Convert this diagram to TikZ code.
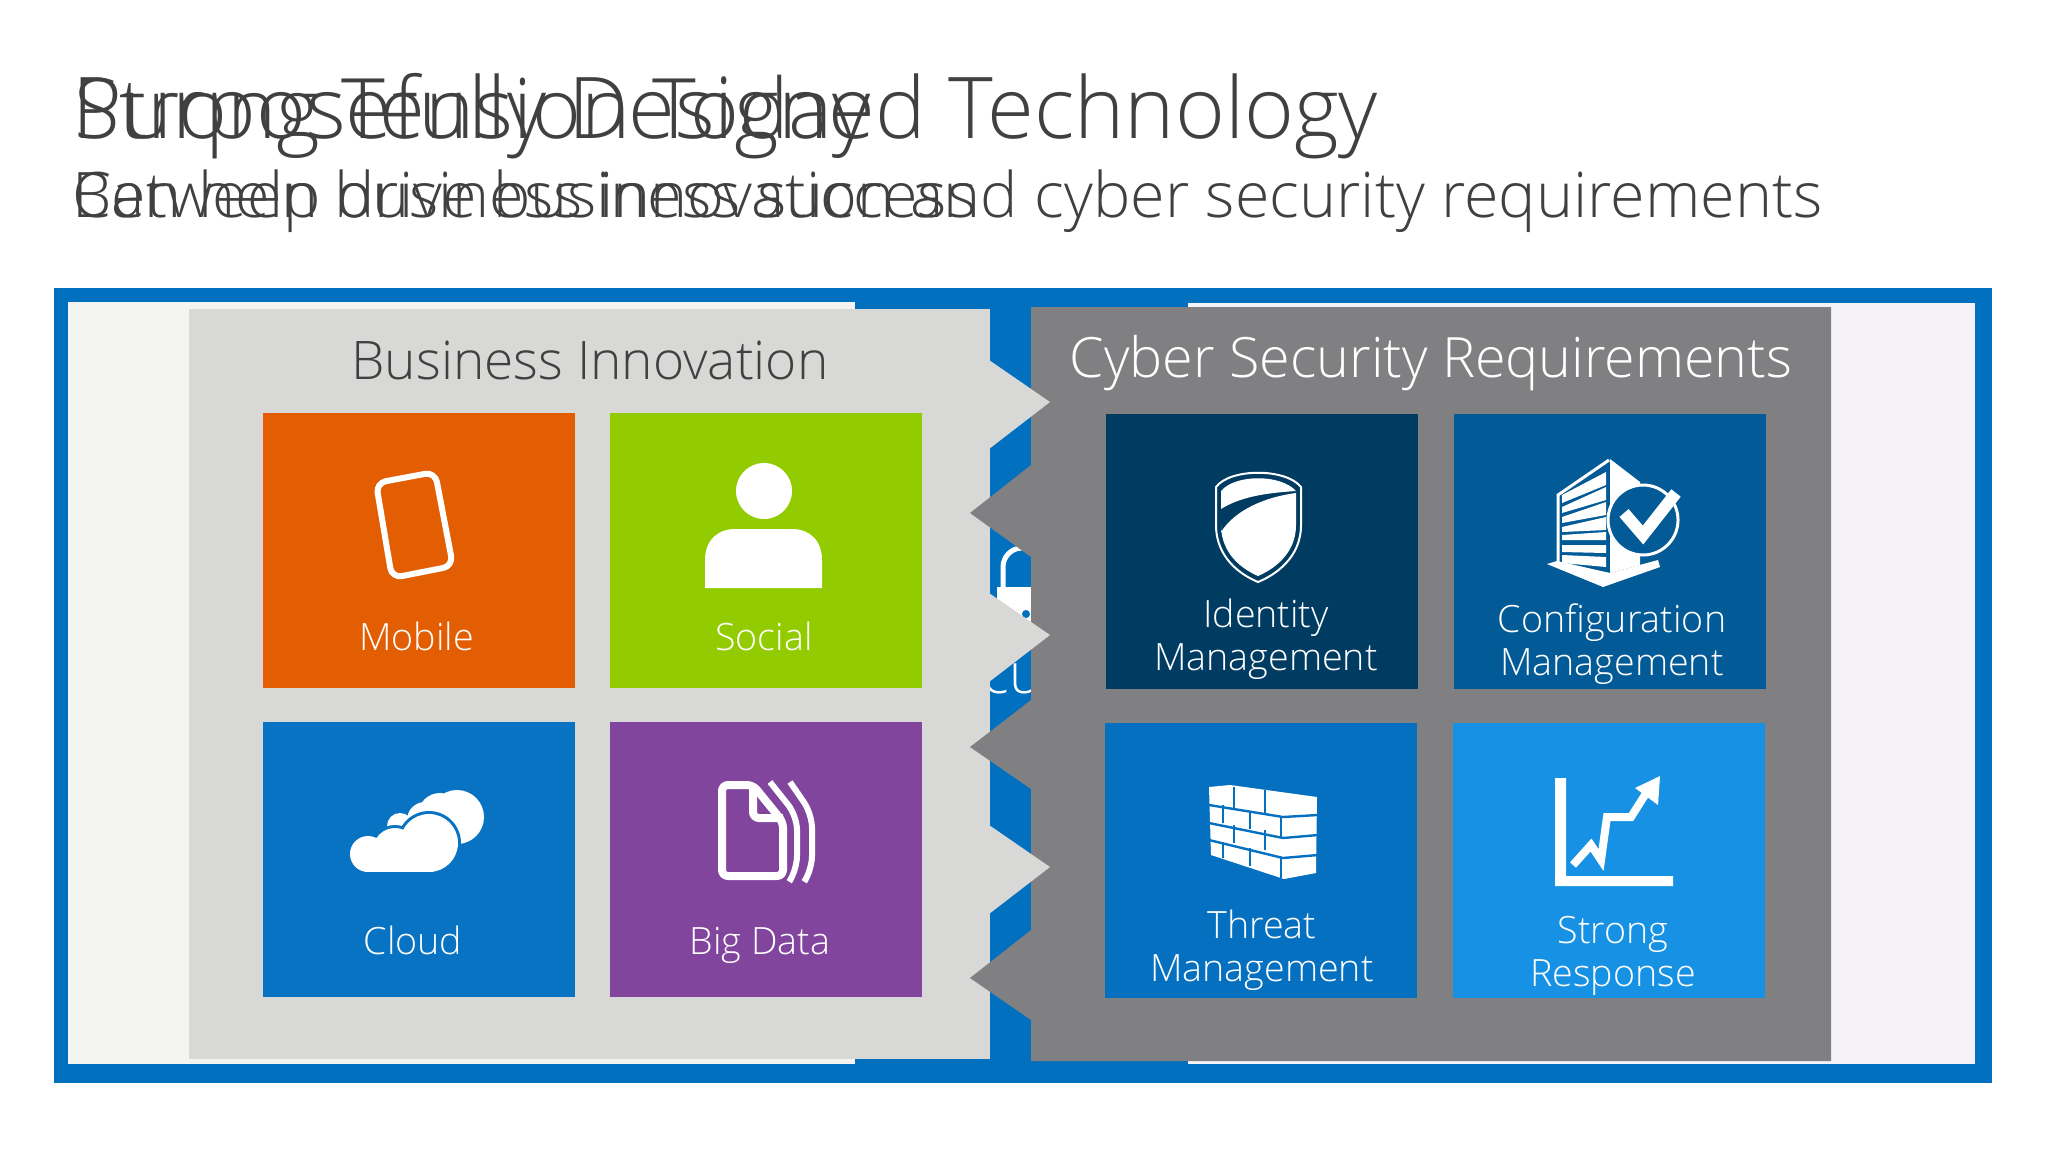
\documentclass[tikz,border=0pt]{standalone}
\usepackage{fontspec}
\setmainfont{Open Sans Light}
\definecolor{framecolor}{HTML}{0070BF}
\definecolor{titlecolor}{HTML}{404040}
\definecolor{lightpanel}{HTML}{D8D9D7}
\definecolor{darkpanel}{HTML}{807F81}
\definecolor{leftstrip}{HTML}{F4F5F3}
\definecolor{rightstrip}{HTML}{F5F3F8}
\definecolor{mobilecolor}{HTML}{E35D02}
\definecolor{socialcolor}{HTML}{92CC00}
\definecolor{cloudcolor}{HTML}{0873C2}
\definecolor{datacolor}{HTML}{82459D}
\definecolor{identitycolor}{HTML}{003B62}
\definecolor{configcolor}{HTML}{025A96}
\definecolor{threatcolor}{HTML}{0670C0}
\definecolor{responsecolor}{HTML}{1691E4}
\begin{document}
\begin{tikzpicture}
[x=0.5pt, y=-0.5pt, node distance=173.5pt,
% STYLES
% The tile style is used to draw the coloured squares
tile/.style={rectangle, inner sep=0pt, minimum width=156pt, minimum height=137.5pt},
tilename/.style={text=white, font=\fontsize{18.8}{21.5}\selectfont, align=center, anchor=base, inner sep=0pt},
bigtitle/.style={text=titlecolor, font=\fontsize{42.6}{50}\selectfont, anchor=base west, inner sep=0pt},
subtitle/.style={text=titlecolor, font=\fontsize{31.4}{40}\selectfont, anchor=base west, inner sep=0pt},
icon/.style={fill=white, draw=none}]
\useasboundingbox (0,0) rectangle (2048,1152);
\fill [white] (0,0) rectangle (2048,1152);

% Draw titles
\node [bigtitle] (titleold) at (72,138) {Purposefully Designed Technology};
\node [bigtitle, font=\fontsize{41.7}{50}\selectfont] (titlenew) at (74,138) {Strong Tension Today};
\node [subtitle] (subold) at (72,217) {Between business innovation and cyber security requirements};
\node [subtitle] (subnew) at (72,217) {Can help drive business success};

% Draw frame
\fill [framecolor] (54,288) rectangle (1992,1083);
\fill [leftstrip] (68,302) rectangle (855,1064);
\fill [rightstrip] (1188,303) rectangle (1975,1064);

% What shows through the gap
\draw [white, line width=2.5pt] (1003,600) -- (1003,567) arc (180:360:19 and 19);
\fill [white] (997,587) rectangle (1031,640);
\fill [framecolor] (1026,614) circle (4);
\node [text=white, font=\fontsize{28}{30}\selectfont, anchor=base west, inner sep=0pt] (gaptext) at (982,693) {cu};

% Draw panels
\fill [lightpanel] (189,309) rectangle (990,1059);
\fill [darkpanel] (1031,307) -- (1831,307) -- (1831,1061) -- (1031,1061) -- (1031,1020) -- (970,978) -- (1031,930)
  -- (1031,789) -- (970,747) -- (1031,700) -- (1031,557) -- (970,513) -- (1031,465) -- cycle;
\foreach \ytop/\ytip/\ybot in {360/402/449, 593/635/682, 825/867/914}
  \fill [lightpanel] (989,\ytop) -- (1050,\ytip) -- (989,\ybot) -- cycle;
\node [text=titlecolor, font=\fontsize{26.6}{30}\selectfont, anchor=base, inner sep=0pt] (business) at (590,379) {Business Innovation};
\node [text=white, font=\fontsize{27.8}{30}\selectfont, anchor=base, inner sep=0pt] (cyber) at (1431,377) {Cyber Security Requirements};

% Draw tiles
\node [tile, fill=mobilecolor] (mobile) at (418.5,550.5) {};
\node [tile, fill=socialcolor, right of=mobile] (social) {};
\node [tile, fill=cloudcolor] (cloud) at (419,859.5) {};
\node [tile, fill=datacolor, right of=cloud] (bigdata) {};
\node [tile, fill=identitycolor] (identity) at (1261.5,551) {};
\node [tile, fill=configcolor, right of=identity, node distance=174pt] (config) {};
\node [tile, fill=threatcolor] (threat) at (1261,860) {};
\node [tile, fill=responsecolor, right of=threat, node distance=174pt] (response) {};

\node [tilename] (mobilename) at (416.5,650) {Mobile};
\node [tilename] (socialname) at (764,650) {Social};
\node [tilename] (cloudname) at (413,954) {Cloud};
\node [tilename] (dataname) at (760,954) {Big Data};
\node [tilename] (identityname) at (1266,670) {Identity\\Management};
\node [tilename] (configname) at (1612,675) {Configuration\\Management};
\node [tilename] (threatname) at (1262,981) {Threat\\Management};
\node [tilename] (responsename) at (1613,986) {Strong\\Response};

% Mobile
\draw [white, line width=3pt, rounded corners=5pt] (376,483) -- (435,472) -- (453,566) -- (392,578) -- cycle;

% Social
\fill [icon] (764,491) circle (28);
\fill [icon] (705,588) -- (705,560) .. controls (705,540) and (718,529) .. (735,529) -- (792,529)
  .. controls (809,529) and (822,540) .. (822,560) -- (822,588) -- cycle;

% Cloud
\fill [icon] (457,817) circle (27) (440,815) circle (22) (425,820) circle (18) (400,826) circle (13);
\fill [cloudcolor] (368,854) circle (21) (395,850) circle (25) (429,843) circle (32);
\fill [icon] (368,854) circle (18) (395,850) circle (22) (429,843) circle (29);
\fill [icon] (368,850) rectangle (432,872);

% Big data
\draw [white, line width=4pt, rounded corners=3pt, line join=round] (722,785) -- (753,785) -- (783,822) -- (783,876) -- (722,876) -- cycle;
\draw [white, line width=4pt, rounded corners=3pt] (753,785) -- (753,818) -- (783,818);
\draw [white, line width=3pt, rounded corners=7pt] (770,782) -- (797,816) -- (797,870) -- (791,879);
\draw [white, line width=3pt, rounded corners=7pt] (790,782) -- (812,814) -- (812,870) -- (806,879);

% Identity
\draw [white, line width=1pt] (1216,487) .. controls (1230,468) and (1286,468) .. (1301,487) -- (1301,525)
  .. controls (1301,558) and (1275,575) .. (1258,582) .. controls (1241,575) and (1216,558) .. (1216,525) -- cycle;
\fill [icon] (1221,491) .. controls (1235,474) and (1281,474) .. (1296,491) .. controls (1265,493) and (1240,497) .. (1221,509) -- cycle;
\fill [icon] (1296,493) -- (1296,525) .. controls (1296,555) and (1272,570) .. (1258,576) .. controls (1244,570) and (1221,555) .. (1221,525) -- (1221,532)
  .. controls (1235,510) and (1265,497) .. (1296,493) -- cycle;

% Configuration
\draw [white, line width=1.5pt] (1558,565) -- (1558,495) -- (1609,460);
\foreach \ltop/\lbot/\rtop/\rbot in {495/503/472/485, 507/513/487/500, 517/523/502/515, 527/532/517/530, 535/540/532/540, 545/552/545/553, 555/563/557/567}
  \fill [icon] (1562,\ltop) -- (1606,\rtop) -- (1606,\rbot) -- (1562,\lbot) -- cycle;
\fill [icon] (1610,459) -- (1640,482) -- (1640,565) -- (1610,573) -- cycle;
\fill [icon] (1547,564) -- (1603,587) -- (1660,567) -- (1658,560) -- (1610,573) -- (1557,561) -- cycle;
\draw [white, line width=1.5pt, fill=configcolor] (1643,520) circle (35);
\draw [white, line width=6pt] (1624,513) -- (1643,535) -- (1676,493);

% Threat
\fill [icon] (1209,787) -- (1230,785) -- (1317,797) -- (1316,873) -- (1284,879) -- (1211,855) -- cycle;
\foreach \lefty/\midy/\righty in {805/817/815, 823/838/835, 840/858/855}
  \draw [threatcolor, line width=1.2pt] (1209,\lefty) -- (1283,\midy) -- (1318,\righty);
\foreach \jx/\jt/\jb in {1234/787/808, 1265/790/815, 1223/805/823, 1250/811/829, 1281/817/838, 1234/825/843, 1265/830/850, 1223/842/858, 1250/848/866, 1281/858/878}
  \draw [threatcolor, line width=1pt] (\jx,\jt) -- (\jx,\jb);

% Response
\fill [icon] (1555,778) -- (1566,778) -- (1566,876) -- (1673,876) -- (1673,886) -- (1555,886) -- cycle;
\draw [white, line width=4pt, line join=miter] (1573,865) -- (1591,845) -- (1601,860) -- (1607,817) -- (1631,817) -- (1650,787);
\fill [icon] (1660,776) -- (1635,788) -- (1658,805) -- cycle;

\end{tikzpicture}
\end{document}
